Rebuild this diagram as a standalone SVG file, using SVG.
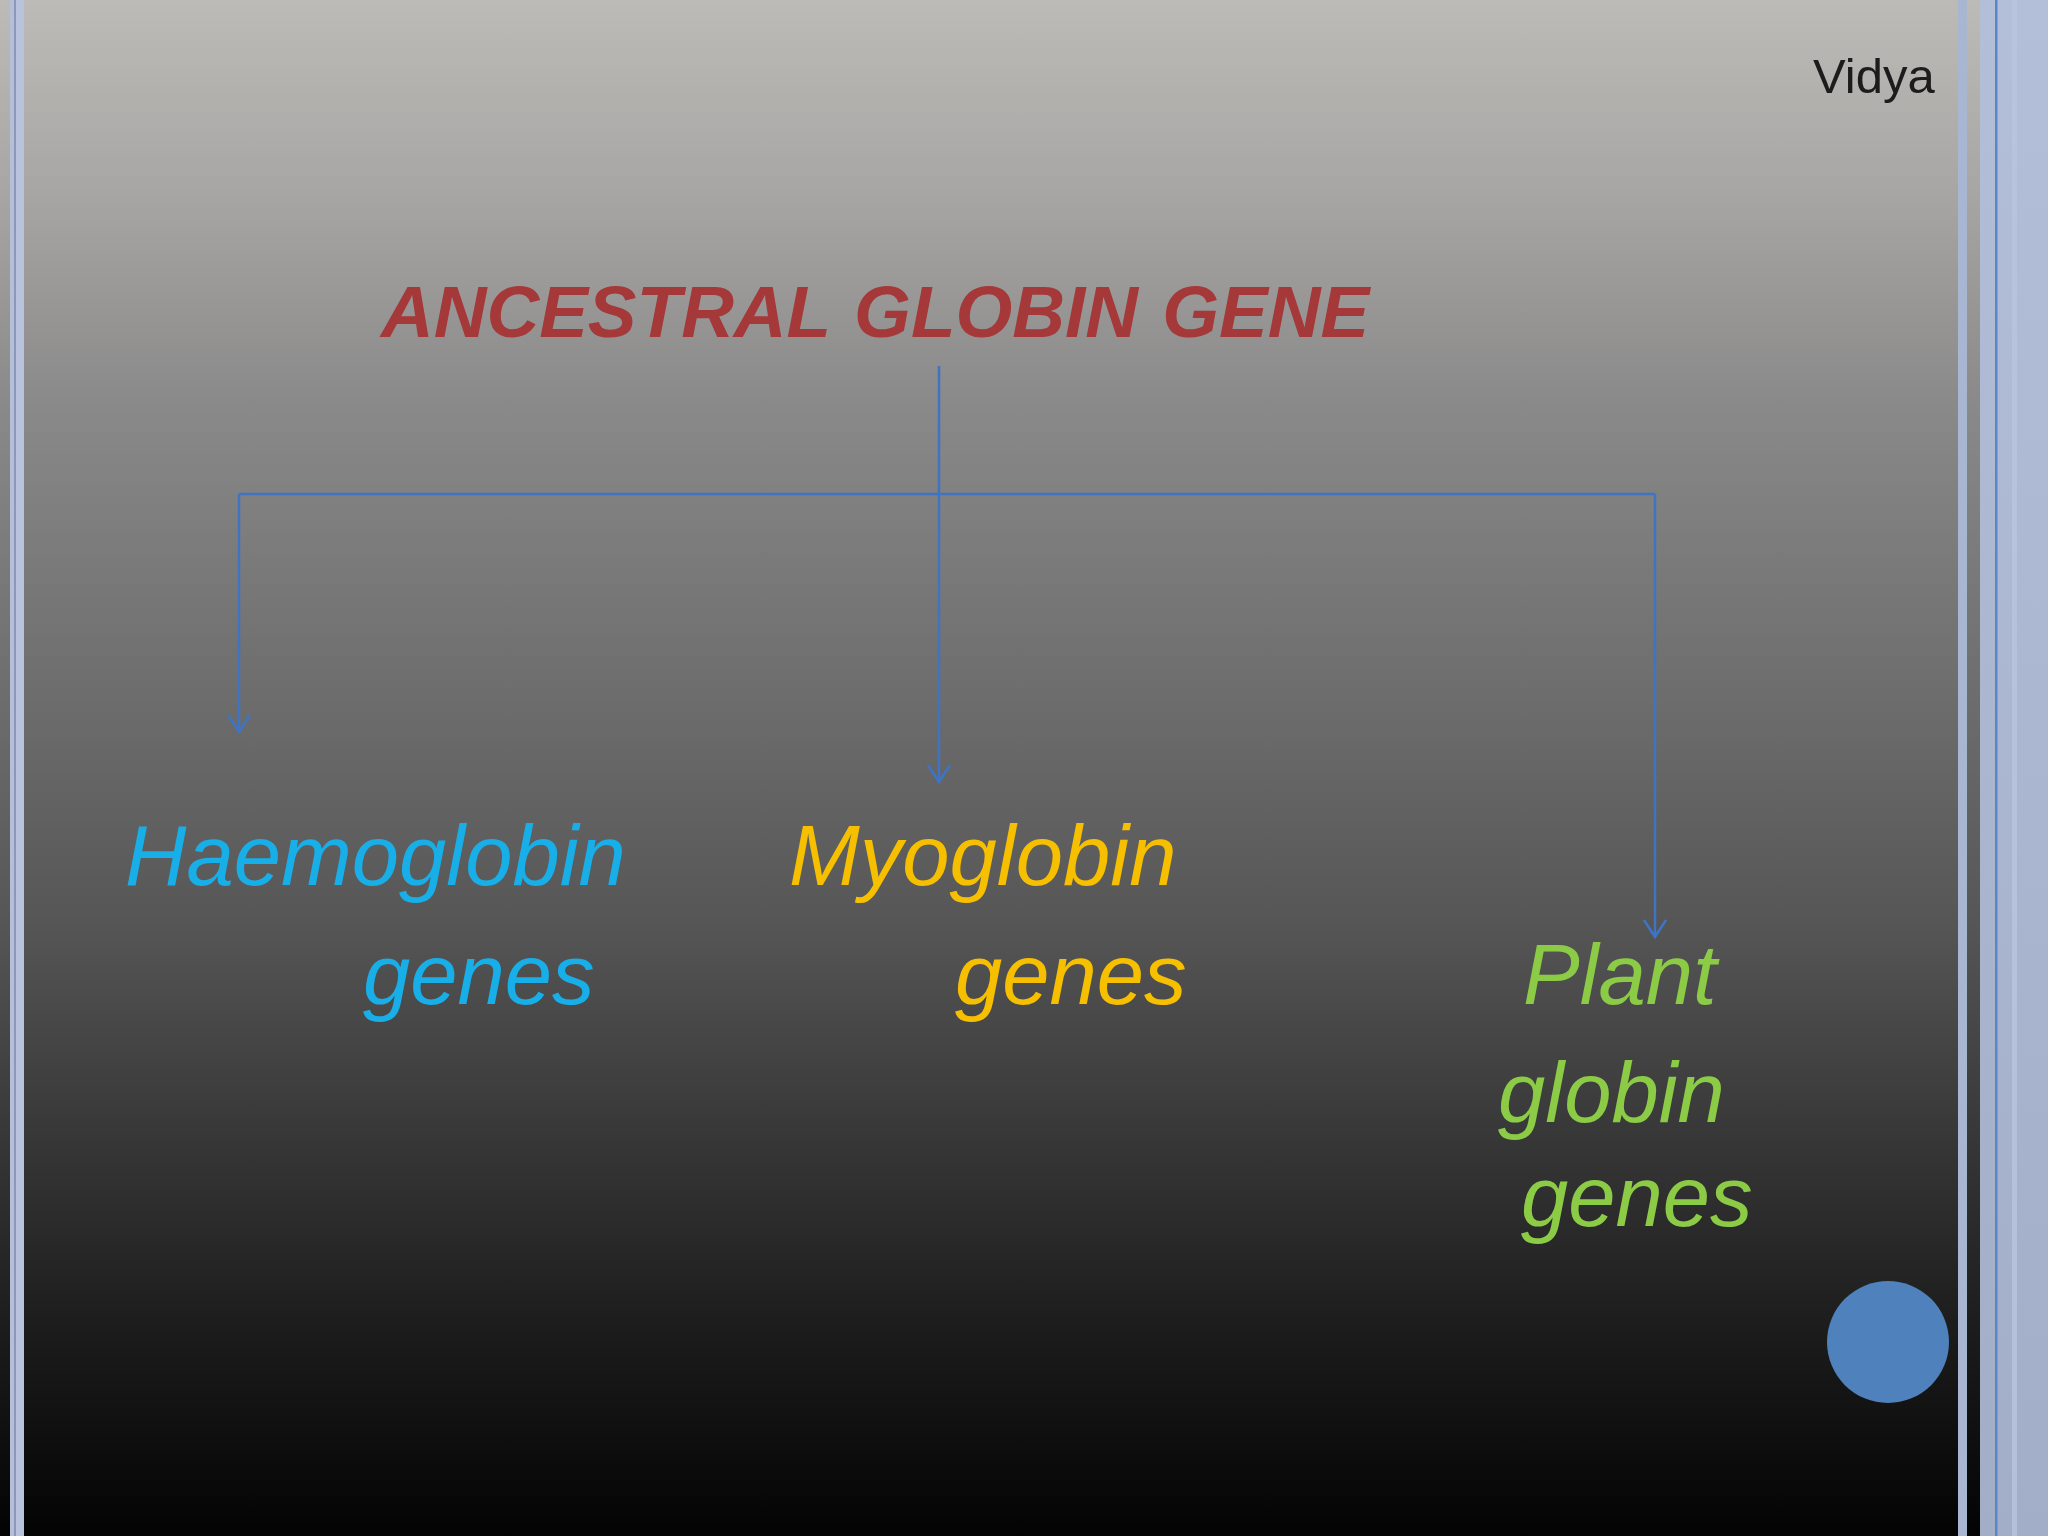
<svg xmlns="http://www.w3.org/2000/svg" width="2048" height="1536" viewBox="0 0 2048 1536">
<defs>
<linearGradient id="bg" x1="0" y1="0" x2="0" y2="1">
<stop offset="0" stop-color="#bdbbb7"/>
<stop offset="0.12" stop-color="#a8a7a5"/>
<stop offset="0.26" stop-color="#8b8a8a"/>
<stop offset="0.5" stop-color="#666667"/>
<stop offset="0.6" stop-color="#565657"/>
<stop offset="0.75" stop-color="#353535"/>
<stop offset="0.86" stop-color="#1d1d1d"/>
<stop offset="1" stop-color="#030303"/>
</linearGradient>
<linearGradient id="panel" x1="0" y1="0" x2="0" y2="1">
<stop offset="0" stop-color="#b3bfd8"/>
<stop offset="1" stop-color="#a2aec8"/>
</linearGradient>
<marker id="arr" viewBox="-20 -14 24 28" markerWidth="24" markerHeight="28" refX="0" refY="0" orient="auto" markerUnits="userSpaceOnUse">
<path d="M-17,-11 L0,0 L-17,11" fill="none" stroke="#3f74c4" stroke-width="2.5"/>
</marker>
<style>
.conn{fill:none;stroke:#3f74c4;stroke-width:2.5}
.lbl{font-family:"Liberation Sans",Arial,sans-serif;font-style:italic;font-size:85px}
.cyan{fill:#18aee8}
.gold{fill:#f6bf00}
.green{fill:#8ccb46}
</style>
</defs>
<rect x="0" y="0" width="2048" height="1536" fill="url(#bg)"/>
<!-- left border strips -->
<rect x="10" y="0" width="4" height="1536" fill="#b4c0da"/>
<rect x="14" y="0" width="2" height="1536" fill="#8c98b4"/>
<rect x="16" y="0" width="8" height="1536" fill="#b9c3de"/>
<!-- right border -->
<rect x="1958" y="0" width="9" height="1536" fill="#a9b6d2"/>
<rect x="1980" y="0" width="68" height="1536" fill="url(#panel)"/>
<rect x="1995" y="0" width="2.5" height="1536" fill="#5a86c6"/>
<rect x="2012" y="0" width="5" height="1536" fill="#b9c4dd" opacity="0.8"/>

<g id="vidya">
<text x="1813" y="93" font-family="Liberation Sans, Arial, sans-serif" font-size="49" fill="#1c1c1c">Vidya</text>
</g>

<g id="ancestral">
<text x="381" y="337" font-family="Liberation Sans, Arial, sans-serif" font-weight="bold" font-style="italic" font-size="73" word-spacing="4" fill="#a53838">ANCESTRAL GLOBIN GENE</text>
</g>

<g id="connectors">
<path class="conn" d="M939,366 L939,782" marker-end="url(#arr)"/>
<path class="conn" d="M239,494 L1655,494"/>
<path class="conn" d="M239,494 L239,732" marker-end="url(#arr)"/>
<path class="conn" d="M1655,494 L1655,937" marker-end="url(#arr)"/>
</g>

<g id="haemoglobin">
<text class="lbl cyan" x="125" y="885">Haemoglobin</text>
<text class="lbl cyan" x="363" y="1004">genes</text>
</g>

<g id="myoglobin">
<text class="lbl gold" x="789" y="885">Myoglobin</text>
<text class="lbl gold" x="955" y="1004">genes</text>
</g>

<g id="plant">
<text class="lbl green" x="1523" y="1004">Plant</text>
<text class="lbl green" x="1498" y="1122">globin</text>
<text class="lbl green" x="1521" y="1226">genes</text>
</g>

<g id="dot">
<circle cx="1888" cy="1342" r="61" fill="#4f81bd"/>
</g>
</svg>
